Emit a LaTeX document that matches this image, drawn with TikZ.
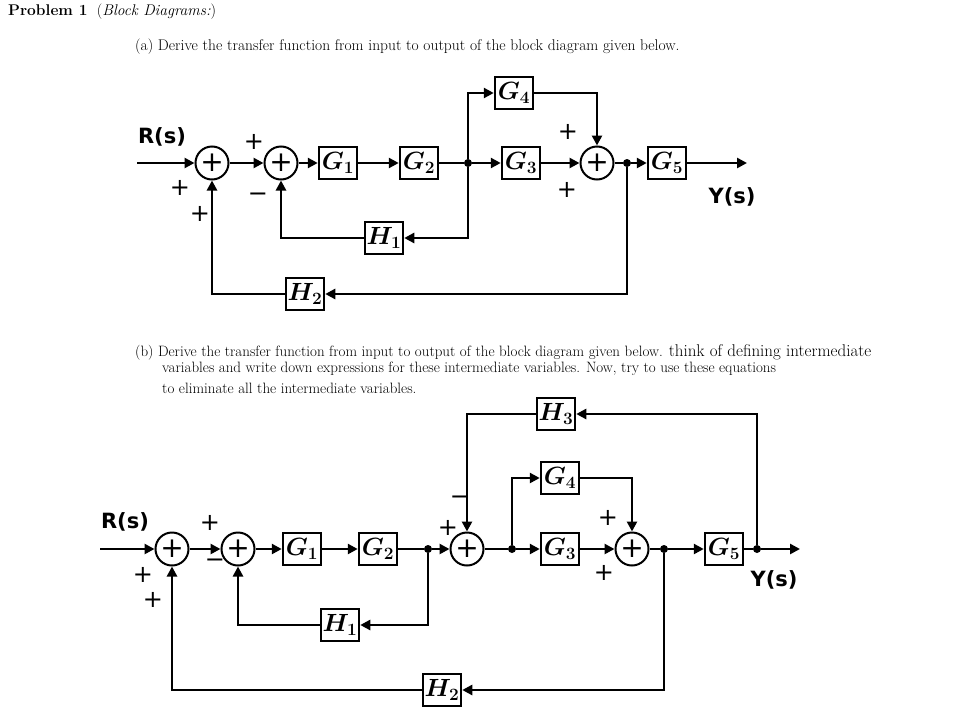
\documentclass[tikz,border=0pt]{standalone}
\usetikzlibrary{arrows.meta}
\usepackage{amsmath,bm}
\usepackage{fontspec}
\newfontfamily\sans{DejaVu Sans}
\begin{document}
\begin{tikzpicture}[x=1pt,y=-1pt,
 ln/.style={line width=2.8pt},
 ar/.style={ln,-{Triangle[length=10pt,width=10pt]}},
 blk/.style={draw,line width=2.5pt,minimum width=38pt,minimum height=32pt,inner sep=0pt,font=\fontsize{27}{27}\selectfont},
 sm/.style={draw,circle,line width=2pt,minimum size=33pt,inner sep=0pt,font=\fontsize{28}{28}\selectfont\sans},
 dt/.style={circle,fill,inner sep=0pt,minimum size=8pt},
 sg/.style={font=\fontsize{24}{24}\selectfont\sans},
 lb/.style={font=\fontsize{21}{21}\selectfont\sans\bfseries},
 tx/.style={anchor=west,font=\fontsize{15.5}{17}\selectfont,inner sep=0pt}]
\useasboundingbox (0,0) rectangle (969,707);
\node[tx] (t0) at (8,12) {\textbf{Problem 1} \ (\textit{Block Diagrams:})};
\node[tx] (ta) at (135,47) {(a) Derive the transfer function from input to output of the block diagram given below.};
\node[tx,font=\fontsize{15}{17}\selectfont] (tb1) at (135,352) {(b) Derive the transfer function from input to output of the block diagram given below. {\fontsize{17}{17}\selectfont think of defining intermediate}};
\node[tx,font=\fontsize{15}{17}\selectfont] (tb2) at (162,369) {variables and write down expressions for these intermediate variables. Now, try to use these equations};
\node[tx,font=\fontsize{15}{17}\selectfont] (tb3) at (162,388) {to eliminate all the intermediate variables.};
% (a)
\coordinate (ain) at (137,163);
\node[sm] (as1) at (212,163) {+};
\node[sm] (as2) at (281,163) {+};
\node[blk] (ag1) at (338,163) {$\bm{G_1}$};
\node[blk] (ag2) at (419,163) {$\bm{G_2}$};
\node[dt] (ab1) at (468,163) {};
\node[blk] (ag3) at (521,163) {$\bm{G_3}$};
\node[blk] (ag4) at (514,93) {$\bm{G_4}$};
\node[sm] (as3) at (597,163) {+};
\node[dt] (ab2) at (627,163) {};
\node[blk] (ag5) at (667,163) {$\bm{G_5}$};
\coordinate (aout) at (747,163);
\node[blk] (ah1) at (384,238) {$\bm{H_1}$};
\node[blk] (ah2) at (305,294) {$\bm{H_2}$};
\node[lb] (ar) at (162,137) {R(s)};
\node[lb] (ay) at (732,197) {Y(s)};
\draw[ar] (ain) -- (as1);
\draw[ar] (as1) -- (as2);
\draw[ar] (as2) -- (ag1);
\draw[ar] (ag1) -- (ag2);
\draw[ln] (ag2) -- (ab1);
\draw[ar] (ab1) -- (ag3);
\draw[ar] (ag3) -- (as3);
\draw[ar] (ab1) |- (ag4);
\draw[ar] (ag4) -| (as3);
\draw[ln] (as3) -- (ab2);
\draw[ar] (ab2) -- (ag5);
\draw[ar] (ag5) -- (aout);
\draw[ar] (ab1) |- (ah1);
\draw[ar] (ah1) -| (as2);
\draw[ar] (ab2) |- (ah2);
\draw[ar] (ah2) -| (as1);
\node[sg] (a1) at (254,142) {+};
\node[sg] (a2) at (180,188) {+};
\node[sg] (a3) at (200,214) {+};
\node[sg] (a4) at (258,197) {−};
\node[sg] (a5) at (568,132) {+};
\node[sg] (a6) at (567,190) {+};
% (b)
\coordinate (bin) at (100,549);
\node[sm] (bs1) at (172,549) {+};
\node[sm] (bs2) at (238,549) {+};
\node[blk] (bg1) at (302,549) {$\bm{G_1}$};
\node[blk] (bg2) at (378,549) {$\bm{G_2}$};
\node[dt] (bb1) at (428,549) {};
\node[sm] (bs3) at (467,549) {+};
\node[dt] (bb2) at (512,549) {};
\node[blk] (bg3) at (560,549) {$\bm{G_3}$};
\node[blk] (bg4) at (560,478) {$\bm{G_4}$};
\node[blk] (bh3) at (556,414) {$\bm{H_3}$};
\node[sm] (bs4) at (632,549) {+};
\node[dt] (bb3) at (664,549) {};
\node[blk] (bg5) at (724,549) {$\bm{G_5}$};
\node[dt] (bb4) at (757,549) {};
\coordinate (bout) at (800,549);
\node[blk] (bh1) at (340,625) {$\bm{H_1}$};
\node[blk] (bh2) at (442,690) {$\bm{H_2}$};
\node[lb] (br) at (125,522) {R(s)};
\node[lb] (by) at (774,580) {Y(s)};
\draw[ar] (bin) -- (bs1);
\draw[ar] (bs1) -- (bs2);
\draw[ar] (bs2) -- (bg1);
\draw[ar] (bg1) -- (bg2);
\draw[ln] (bg2) -- (bb1);
\draw[ar] (bb1) -- (bs3);
\draw[ln] (bs3) -- (bb2);
\draw[ar] (bb2) -- (bg3);
\draw[ar] (bb2) |- (bg4);
\draw[ar] (bg4) -| (bs4);
\draw[ar] (bg3) -- (bs4);
\draw[ln] (bs4) -- (bb3);
\draw[ar] (bb3) -- (bg5);
\draw[ln] (bg5) -- (bb4);
\draw[ar] (bb4) -- (bout);
\draw[ar] (bb4) |- (bh3);
\draw[ar] (bh3) -| (bs3);
\draw[ar] (bb1) |- (bh1);
\draw[ar] (bh1) -| (bs2);
\draw[ar] (bb3) |- (bh2);
\draw[ar] (bh2) -| (bs1);
\node[sg] (b1) at (210,523) {+};
\node[sg] (b2) at (143,575) {+};
\node[sg] (b3) at (153,600) {+};
\node[sg] (b4) at (215,563) {−};
\node[sg] (b5) at (460,500) {−};
\node[sg] (b6) at (448,528) {+};
\node[sg] (b7) at (608,518) {+};
\node[sg] (b8) at (604,573) {+};
\end{tikzpicture}
\end{document}
